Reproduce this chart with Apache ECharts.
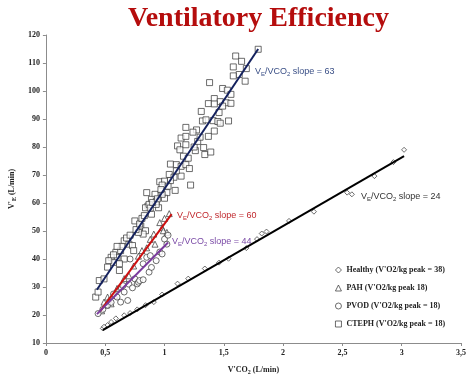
<!DOCTYPE html>
<html>
<head>
<meta charset="utf-8">
<script src="https://cdn.jsdelivr.net/npm/echarts@6/dist/echarts.min.js"></script>
<style>
  html, body { margin: 0; padding: 0; background: #fff; }
  #chart { width: 474px; height: 380px; }
</style>
</head>
<body>
<div id="chart"></div>
<script>
// groups (legend text)
var groupNames = [
  "Healthy (V'O2/kg peak = 38)",
  "PAH (V'O2/kg peak 18)",
  "PVOD (V'O2/kg peak = 18)",
  "CTEPH (V'O2/kg peak = 18)"
]
var slopes = [24, 60, 44, 63]

// scatter points [V'CO2, V'E]
var healthyPts = [
  [0.48, 15.2], [0.49, 15.8], [0.52, 16.4], [0.55, 17.5], [0.59, 18.8], [0.66, 19.9],
  [0.71, 20.7], [0.77, 22], [0.84, 23.5], [0.91, 24.6], [0.98, 27.3], [1.11, 31.2],
  [1.2, 33], [1.34, 36.6], [1.46, 38.7], [1.54, 40.1], [1.69, 43.9], [1.78, 47.1],
  [1.82, 49.1], [1.86, 49.8], [2.05, 53.6], [2.26, 56.9], [2.54, 63.7], [2.58, 63.1],
  [2.77, 69.6], [2.93, 74.6], [3.02, 79.0]
]
var pahPts = [
  [0.47, 21.5], [0.49, 24.6], [0.51, 23.5], [0.52, 26.4], [0.53, 25.2], [0.55, 24],
  [0.58, 27], [0.6, 29.5], [0.63, 30], [0.66, 33], [0.7, 34], [0.74, 37.5], [0.78, 41],
  [0.81, 43], [0.85, 44], [0.88, 47], [0.91, 48.9], [0.92, 45.3], [0.96, 53], [0.98, 51.2],
  [0.99, 50.1], [1.02, 49.5], [1.0, 54.5], [1.04, 56.2]
]
var pvodPts = [
  [0.44, 20.5], [0.48, 22], [0.52, 23.5], [0.55, 24.5], [0.57, 27.5], [0.6, 26.4],
  [0.63, 24.6], [0.65, 30.5], [0.66, 28.2], [0.69, 25.2], [0.7, 31], [0.71, 40.0],
  [0.73, 29.7], [0.75, 32.9], [0.77, 31.1], [0.78, 31.7], [0.79, 32.3], [0.82, 32.6],
  [0.82, 38.3], [0.85, 40.6], [0.87, 35.3], [0.88, 41.2], [0.89, 37], [0.93, 39.4],
  [0.96, 42.5], [0.98, 41.8], [1.0, 47.1], [1.02, 45.3], [1.03, 48.5]
]
var ctephPts = [
  [1.79, 114.9], [1.60, 112.5], [1.65, 110.6], [1.58, 108.6], [1.69, 108], [1.63, 105.9],
  [1.58, 105.4], [1.68, 103.5], [1.38, 103.0], [1.49, 100.9], [1.53, 100.3], [1.56, 98.8],
  [1.42, 97.3], [1.47, 96.2], [1.37, 95.5], [1.42, 95.4], [1.52, 95.8], [1.56, 95.6],
  [1.49, 94.6], [1.46, 92.3], [1.31, 92.7], [1.32, 89.3], [1.35, 89.7], [1.41, 89.4],
  [1.45, 89.1], [1.47, 88.5], [1.54, 89.3], [1.27, 86.1], [1.42, 85.7], [1.18, 87.0],
  [1.24, 85.3], [1.37, 83.8], [1.14, 83.2], [1.18, 83.8], [1.11, 80.4], [1.13, 79.0],
  [1.18, 80.8], [1.26, 78.7], [1.33, 79.8], [1.34, 77.3], [1.39, 78.2], [1.16, 76.7],
  [1.05, 73.9], [1.10, 73.7], [1.14, 73.1], [1.18, 73.7], [1.21, 72.3], [1.04, 70.2],
  [1.08, 69.2], [1.14, 69.6], [1.22, 66.4], [0.96, 67.6], [1.00, 67.8], [1.03, 66.0],
  [0.98, 66.4], [1.09, 64.5], [1.02, 63.7], [0.85, 63.7], [0.92, 63.1], [0.89, 61.3],
  [0.93, 60.5], [1.00, 61.7], [0.86, 58.9], [0.84, 58.3], [0.95, 58.3], [0.98, 63.1],
  [0.87, 59.5], [0.93, 59.5], [0.89, 56.0], [0.75, 53.6], [0.80, 51.8], [0.84, 50.1],
  [0.82, 48.9], [0.78, 49.5], [0.66, 46.5], [0.70, 45.3], [0.73, 44.8], [0.74, 43.0],
  [0.59, 42.4], [0.63, 43.0], [0.60, 40.6], [0.66, 40.0], [0.55, 40.6], [0.57, 38.8],
  [0.53, 39.4], [0.62, 38.3], [0.62, 35.9], [0.52, 37.1], [0.45, 32.3], [0.49, 32.9],
  [0.42, 26.4], [0.44, 28.2], [0.64, 44.5], [0.68, 47.5], [0.71, 48.5], [0.76, 50.5],
  [0.79, 52.5], [0.81, 54.5], [0.83, 55.5], [0.57, 41.5], [0.6, 44.5], [0.88, 58.2],
  [0.9, 60.2], [0.94, 61.5], [0.97, 64.8], [1.05, 68], [1.1, 71.5], [1.2, 76],
  [1.25, 80], [1.28, 82], [1.3, 83.5]
]

// regression lines (start, end)
var healthyFit = [[0.48, 14.6], [3.02, 76.7]]
var pahFit = [[0.46, 21.5], [1.06, 56]]
var pvodFit = [[0.43, 20.3], [1.03, 45.9]]
var ctephFit = [[0.43, 29], [1.79, 115]]

var serif = 'Liberation Serif'
var sans = 'Liberation Sans'

function slopeText (x, y, color, slope) {
  return {
    type: 'text',
    x: x,
    y: y,
    style: {
      text: '{n|V}{s|E}{n|/VCO}{s|2}{n| slope = ' + slope + '}',
      fill: color,
      verticalAlign: 'middle',
      rich: {
        n: { fontSize: 9, fontFamily: sans, fill: color },
        s: { fontSize: 6, fontFamily: sans, fill: color, verticalAlign: 'bottom', padding: [5, 0, 0, 0] }
      }
    }
  }
}

function fitSeries (data, color, width) {
  return {
    type: 'line',
    data: data,
    symbol: 'none',
    silent: true,
    lineStyle: { color: color, width: width },
    z: 3
  }
}

// hollow markers: white fill, thin dark outline
function ptSeries (name, data, symbol, size) {
  return {
    name: name,
    type: 'scatter',
    data: data,
    symbol: symbol,
    symbolSize: size,
    itemStyle: { color: '#fff', borderColor: '#333', borderWidth: 0.9 },
    z: 2
  }
}

var chart = echarts.init(document.getElementById('chart'))
chart.setOption({
  animation: false,
  backgroundColor: '#fff',
  title: {
    text: 'Ventilatory Efficiency',
    left: 123,
    top: 0,
    textStyle: { fontFamily: serif, fontWeight: 'bold', fontSize: 28, color: '#b50d0d' }
  },
  grid: { left: 39, right: 13, top: 35, bottom: 37 },
  legend: {
    data: groupNames,
    orient: 'vertical',
    left: 330,
    top: 261,
    itemWidth: 6,
    itemHeight: 6,
    itemGap: 10,
    itemStyle: { color: '#fff', borderColor: '#333', borderWidth: 0.9 },
    textStyle: { fontFamily: serif, fontWeight: 'bold', fontSize: 8, color: '#222' }
  },
  xAxis: {
    type: 'value',
    min: 0,
    max: 3.5,
    interval: 0.5,
    name: "V'CO{s|2} (L/min)",
    nameLocation: 'middle',
    nameGap: 22,
    nameTextStyle: {
      fontFamily: serif, fontWeight: 'bold', fontSize: 8, color: '#222',
      rich: { s: { fontFamily: serif, fontWeight: 'bold', fontSize: 6, color: '#222', verticalAlign: 'bottom', padding: [4, 0, 0, 0] } }
    },
    splitLine: { show: false },
    axisLine: { onZero: false, lineStyle: { color: '#8c8c8c' } },
    axisTick: { length: 3, lineStyle: { color: '#8c8c8c' } },
    axisLabel: {
      margin: 6,
      fontFamily: serif, fontWeight: 'bold', fontSize: 8, color: '#222',
      formatter: function (v) { return String(v).replace('.', ',') }
    }
  },
  yAxis: {
    type: 'value',
    min: 10,
    max: 120,
    interval: 10,
    name: "V'{s|E} (L/min)",
    nameLocation: 'middle',
    nameGap: 25,
    nameRotate: 90,
    nameTextStyle: {
      fontFamily: serif, fontWeight: 'bold', fontSize: 8, color: '#222',
      rich: { s: { fontFamily: serif, fontWeight: 'bold', fontSize: 6, color: '#222', verticalAlign: 'bottom', padding: [4, 0, 0, 0] } }
    },
    splitLine: { show: false },
    axisLine: { show: true, lineStyle: { color: '#8c8c8c' } },
    axisTick: { show: true, length: 3, lineStyle: { color: '#8c8c8c' } },
    axisLabel: { margin: 6, fontFamily: serif, fontWeight: 'bold', fontSize: 8, color: '#222' }
  },
  series: [
    ptSeries(groupNames[0], healthyPts, 'diamond', 5),
    ptSeries(groupNames[1], pahPts, 'triangle', 6),
    ptSeries(groupNames[2], pvodPts, 'circle', 6),
    ptSeries(groupNames[3], ctephPts, 'rect', 6),
    fitSeries(healthyFit, '#000', 2),
    fitSeries(pahFit, '#cc1010', 2),
    fitSeries(pvodFit, '#7a3a9e', 2),
    fitSeries(ctephFit, '#14215e', 2)
  ],
  graphic: [
    slopeText(255, 72, '#3a4f86', slopes[3]),
    slopeText(177, 216, '#c0282d', slopes[1]),
    slopeText(172, 242, '#7a4aa6', slopes[2]),
    slopeText(361, 197, '#333', slopes[0])
  ]
})
</script>
</body>
</html>
